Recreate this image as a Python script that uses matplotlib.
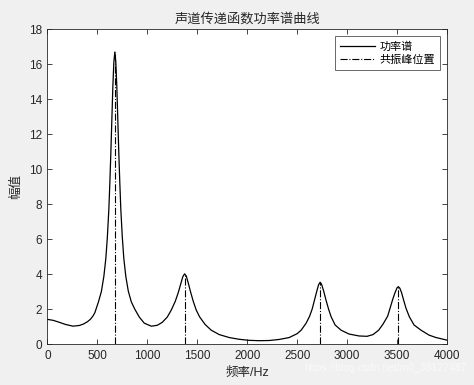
import matplotlib.pyplot as plt

plt.rcParams['font.family'] = ['Liberation Sans', 'Noto Sans CJK SC', 'DejaVu Sans']

# 功率谱曲线
freq = [0, 60, 120, 180, 256, 320, 360, 400, 430, 455, 475, 510, 540, 565, 585,
        600, 615, 625, 635, 645, 655, 665, 675, 685, 695, 705, 715, 725, 735, 750,
        765, 785, 810, 840, 875, 920, 970, 1040, 1100, 1150, 1200, 1240, 1280,
        1310, 1335, 1355, 1373, 1390, 1410, 1435, 1460, 1490, 1525, 1580, 1640,
        1720, 1820, 1920, 2020, 2120, 2220, 2320, 2420, 2500, 2540, 2590, 2625,
        2650, 2675, 2700, 2715, 2730, 2745, 2765, 2790, 2815, 2840, 2880, 2940,
        3020, 3120, 3200, 3260, 3316, 3360, 3406, 3430, 3456, 3480, 3500, 3513,
        3528, 3545, 3566, 3590, 3623, 3670, 3740, 3820, 3890, 3950, 4000]
power = [1.42, 1.36, 1.25, 1.13, 1.03, 1.07, 1.15, 1.28, 1.42, 1.6, 1.8, 2.4,
         3.0, 3.87, 4.9, 6.1, 7.7, 9.2, 10.9, 12.8, 14.7, 16.1, 16.7, 16.1, 14.7,
         12.8, 10.9, 9.2, 7.7, 6.1, 4.9, 3.87, 3.03, 2.42, 2.0, 1.55, 1.2, 1.03,
         1.08, 1.25, 1.55, 1.95, 2.45, 2.95, 3.45, 3.85, 4.02, 3.9, 3.5, 2.95,
         2.45, 1.95, 1.55, 1.12, 0.8, 0.55, 0.38, 0.28, 0.22, 0.2, 0.21, 0.27,
         0.38, 0.6, 0.8, 1.2, 1.6, 2.0, 2.55, 3.1, 3.4, 3.54, 3.42, 3.05, 2.5,
         2.0, 1.57, 1.1, 0.8, 0.58, 0.47, 0.45, 0.55, 0.8, 1.15, 1.6, 2.05, 2.55,
         2.95, 3.22, 3.29, 3.2, 2.95, 2.52, 2.05, 1.57, 1.1, 0.8, 0.52, 0.38, 0.3,
         0.23]

# 共振峰位置
formant_freq = [675, 1373, 2730, 3513]
formant_amp = [16.7, 4.02, 3.54, 3.29]

xticks = list(range(0, 4001, 500))
yticks = list(range(0, 19, 2))

fig = plt.figure(figsize=(4.74, 3.85), dpi=100, facecolor='#f0f0f0')
ax = fig.add_axes([0.100, 0.106, 0.843, 0.818])

ax.plot(freq, power, color='black', lw=0.9, label='功率谱')
for i, (f, a) in enumerate(zip(formant_freq, formant_amp)):
    ax.plot([f, f], [0, a], color='black', lw=0.8, ls='-.',
            label='共振峰位置' if i == 0 else None)

ax.set_xlim(0, 4000)
ax.set_ylim(0, 18)
ax.set_xticks(xticks)
ax.set_yticks(yticks)
ax.tick_params(direction='in', top=True, right=True, length=3.5, width=0.6,
               labelsize=8.5, colors='#262626', pad=4)
for s in ax.spines.values():
    s.set_linewidth(0.6)
    s.set_color('#262626')

ax.set_title('声道传递函数功率谱曲线', fontsize=9.5, color='#262626', pad=5)
ax.set_xlabel('频率/Hz', fontsize=9, color='#262626', labelpad=4)
ax.set_ylabel('幅值', fontsize=9, color='#262626', labelpad=5)

leg = ax.legend(loc='upper right', fontsize=8, frameon=True, fancybox=False,
                edgecolor='#262626', handlelength=3.2, borderpad=0.45,
                labelspacing=0.3, handletextpad=0.4, borderaxespad=0.6)
leg.get_frame().set_linewidth(0.6)

# 水印
fig.text(0.985, 0.045, 'https://blog.csdn.net/m0_38127487', fontsize=7.5,
         color='white', alpha=0.6, ha='right', va='center')

fig.savefig('out.png', dpi=100, facecolor=fig.get_facecolor())
